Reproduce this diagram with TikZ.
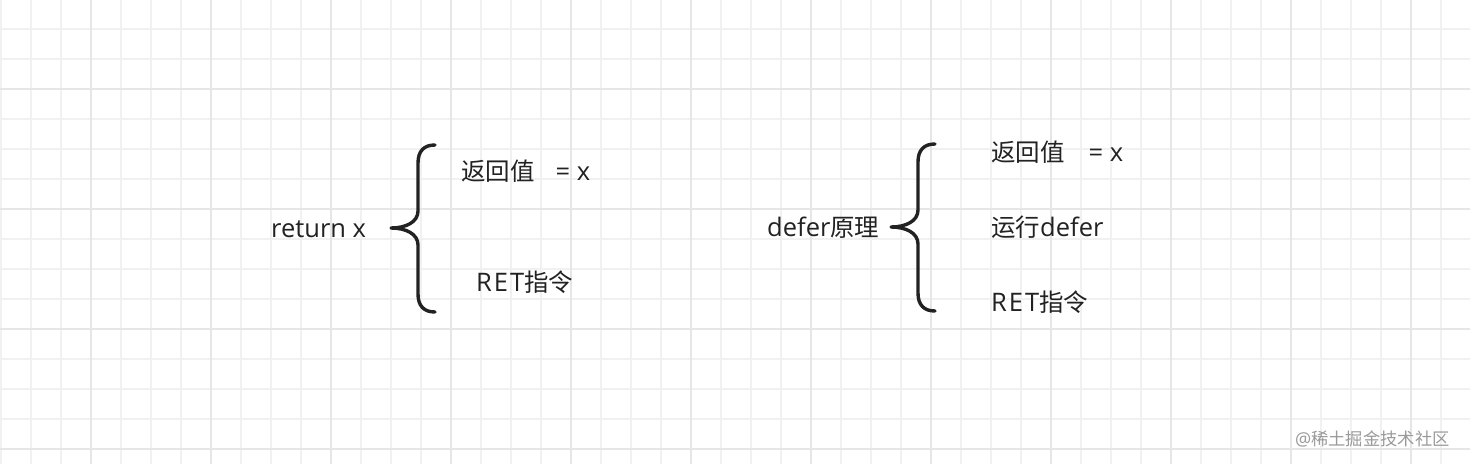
\documentclass[tikz,border=0pt]{standalone}
\usepackage{fontspec}
\setmainfont{Open Sans}
\newfontfamily\cjk[Scale=0.96]{Noto Sans CJK SC}
\definecolor{minorgrid}{HTML}{F1F1F1}
\definecolor{majorgrid}{HTML}{E6E6E6}
\definecolor{ink}{HTML}{222222}
\definecolor{wm}{HTML}{9A9A9A}
\newcommand{\retword}{{\addfontfeature{LetterSpace=8}RET}}
\begin{document}
\begin{tikzpicture}[x=1pt,y=-1pt,
  lbl/.style={anchor=base west,inner sep=0pt,font=\fontsize{25.5}{30}\selectfont,text=ink},
  bracepath/.style={draw=ink,line width=3.4pt,line cap=round,line join=round}]
\useasboundingbox[fill=white] (0,0) rectangle (1470,464);
% grid
\foreach \k in {0,...,48}{
  \draw[minorgrid,line width=1.8pt] ({1+30*\k},0) -- ({1+30*\k},464);
}
\foreach \k in {1,...,15}{
  \draw[minorgrid,line width=1.8pt] (0,{-1+30*\k}) -- (1470,{-1+30*\k});
}
\foreach \k in {0,...,11}{
  \draw[majorgrid,line width=2.2pt] ({91+120*\k},0) -- ({91+120*\k},464);
}
\foreach \k in {0,...,3}{
  \draw[majorgrid,line width=2.2pt] (0,{89+120*\k}) -- (1470,{89+120*\k});
}
% left group
\node[lbl] (ret) at (271,237) {return x};
\coordinate (b1top) at (435,145);
\coordinate (b1tip) at (391,228);
\coordinate (b1bot) at (435,312);
\draw[bracepath] (b1top) .. controls (424,145) and (418,151) .. (418,163) -- (418,211)
  .. controls (418,222) and (406,228) .. (b1tip)
  .. controls (406,228) and (418,234) .. (418,245) -- (418,294)
  .. controls (418,306) and (424,312) .. (b1bot);
\node[lbl] (v1) at (461,180) {{\cjk 返回值}\hspace{21pt}= x};
\node[lbl] (r1) at (476,291) {\retword{\cjk 指令}};
% right group
\node[lbl] (def) at (767,236) {defer{\cjk 原理}};
\coordinate (b2top) at (935,144);
\coordinate (b2tip) at (891,227);
\coordinate (b2bot) at (935,311);
\draw[bracepath] (b2top) .. controls (924,144) and (918,150) .. (918,162) -- (918,210)
  .. controls (918,221) and (906,227) .. (b2tip)
  .. controls (906,227) and (918,233) .. (918,244) -- (918,293)
  .. controls (918,305) and (924,311) .. (b2bot);
\node[lbl] (v2) at (991,161) {{\cjk 返回值}\hspace{24pt}= x};
\node[lbl] (run) at (991,236) {{\cjk 运行}defer};
\node[lbl] (r2) at (991,311) {\retword{\cjk 指令}};
% watermark
\node[anchor=base west,inner sep=0pt,font=\fontsize{18}{21}\selectfont,text=wm] (wmk) at (1295,445) {@{\cjk 稀土掘金技术社区}};
\end{tikzpicture}
\end{document}
